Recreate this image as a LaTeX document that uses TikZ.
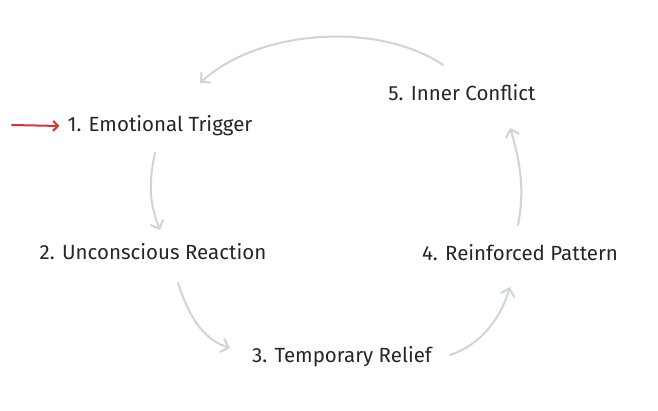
\documentclass[tikz,border=0pt]{standalone}
\usepackage{fontspec}
\setmainfont{Fira Sans}
\usetikzlibrary{arrows.meta,calc}
\definecolor{conc}{HTML}{CDD5DB}
\definecolor{redc}{HTML}{E03131}
\begin{document}
\begin{tikzpicture}[x=1pt,y=-1pt,
  lbl/.style={font=\fontsize{20.5}{24}\selectfont, text=black!85, inner sep=2pt},
  con/.style={draw=conc, line width=2pt, -{Straight Barb[length=7pt,width=14pt]}, line cap=round}]
\fill[white] (0,0) rectangle (658,410);
\node[lbl] (n1) at (160,126) {1. Emotional Trigger};
\node[lbl] (n2) at (153,252) {2. Unconscious Reaction};
\node[lbl] (n3) at (342,357) {3. Temporary Relief};
\node[lbl] (n4) at (520,253) {4. Reinforced Pattern};
\node[lbl] (n5) at (462,93) {5. Inner Conflict};
\coordinate (r0) at (12,125);
\draw[draw=redc, line width=2pt, line cap=round, -{Straight Barb[length=5pt,width=10pt]}] (r0) -- ($(n1.west)+(-6,0)$);
\draw[con] ($(n5)+(-19,-28)$) .. controls (380,22) and (260,28) .. ($(n1)+(40,-43)$);
\draw[con] ($(n1)+(-5,27)$) .. controls (148,185) and (150,205) .. ($(n2)+(7,-22)$);
\draw[con] ($(n2)+(25,31)$) .. controls (190,320) and (205,340) .. ($(n3)+(-112,-9)$);
\draw[con] ($(n3)+(108,-2)$) .. controls (480,345) and (500,320) .. ($(n4)+(-10,34)$);
\draw[con] ($(n4)+(-2,-28)$) .. controls (525,190) and (520,160) .. ($(n5)+(48,35)$);
\end{tikzpicture}
\end{document}
